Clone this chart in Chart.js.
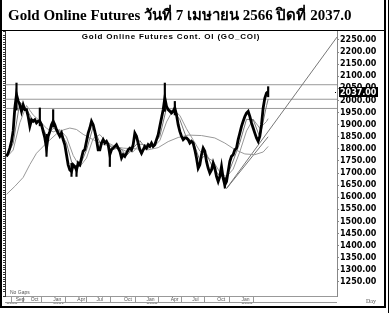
<!DOCTYPE html>
<html>
<head>
<meta charset="utf-8">
<script src="https://cdn.jsdelivr.net/npm/chart.js@4.4.1/dist/chart.umd.min.js"></script>
<style>
  html, body { margin: 0; padding: 0; background: #fff; }
  #wrap { position: relative; width: 390px; height: 313px; overflow: hidden; background: #fff; }
  #chart { position: absolute; left: 0; top: 0; }
  .title { position: absolute; left: 8px; top: 8px; font: bold 15px 'Liberation Serif', 'Times New Roman', serif; line-height: 15px; white-space: nowrap; color: #000; }
  .sub { position: absolute; left: 60px; top: 33px; width: 222px; text-align: center; font: bold 8px 'Liberation Sans', Arial, sans-serif; letter-spacing: 0.8px; line-height: 8px; white-space: nowrap; color: #000; }
  .ln { position: absolute; background: #000; }
</style>
</head>
<body>
<div id="wrap">
  <canvas id="chart" width="390" height="313"></canvas>
  <div class="title">Gold Online Futures วันที่ 7 เมษายน 2566 ปิดที่ 2037.0</div>
  <div class="sub">Gold Online Futures Cont. OI (GO_COI)</div>
  <div class="ln" style="left:0;top:0;width:2px;height:308px"></div>
  <div class="ln" style="left:384px;top:0;width:2px;height:308px"></div>
  <div class="ln" style="left:388px;top:0;width:1px;height:313px"></div>
  <div class="ln" style="left:0;top:30px;width:386px;height:1px"></div>
  <div class="ln" style="left:0;top:306px;width:386px;height:2px"></div>
</div>
<script>
// weekly closes, Jul 2020 -> 7 Apr 2023
const closeVals = [
  1769, 1782, 1803, 1831, 1874, 1969, 2024, 1998, 1982, 1955,
  1982, 1962, 1962, 1934, 1893, 1920, 1914, 1920, 1907, 1914,
  1914, 1900, 1872, 1845, 1803, 1852, 1872, 1900, 1914, 1900,
  1879, 1865, 1852, 1865, 1838, 1817, 1776, 1734, 1713, 1707,
  1734, 1727, 1713, 1741, 1734, 1762, 1790, 1797, 1831, 1865,
  1886, 1914, 1900, 1872, 1838, 1796, 1796, 1824, 1838, 1824,
  1831, 1817, 1776, 1796, 1803, 1810, 1817, 1803, 1790, 1762,
  1776, 1769, 1782, 1796, 1803, 1796, 1817, 1865, 1852, 1824,
  1796, 1782, 1796, 1810, 1803, 1817, 1810, 1824, 1810, 1817,
  1838, 1858, 1893, 1927, 1962, 2010, 1976, 1962, 1955, 1948,
  1955, 1969, 1941, 1900, 1872, 1852, 1838, 1845, 1845, 1838,
  1824, 1831, 1824, 1796, 1762, 1720, 1734, 1776, 1803, 1790,
  1748, 1720, 1700, 1713, 1741, 1720, 1686, 1665, 1686, 1727,
  1679, 1651, 1665, 1707, 1748, 1769, 1776, 1796, 1803, 1838,
  1865, 1893, 1914, 1934, 1948, 1955, 1934, 1907, 1886, 1865,
  1845, 1831, 1852, 1900, 1969, 2010, 2031, 2037
];

// intraweek extremes that stick out of the price band
const spikeAt = [6, 20, 24, 28, 39, 42, 62, 95, 101, 131, 157];
const spikeLo = [1960, 1895, 1769, 1890, 1686, 1686, 1727, 1955, 1940, 1638, 2015];
const spikeHi = [2072, 1969, 1860, 1962, 1740, 1730, 1800, 2072, 1996, 1680, 2057];

// short moving averages (read every 4 weeks)
const maAt = [0, 4, 8, 12, 16, 20, 24, 28, 32, 36, 40, 44, 48, 52, 56, 60, 64, 68, 72, 76,
  80, 84, 88, 92, 96, 100, 104, 108, 112, 116, 120, 124, 128, 132, 136, 140, 144, 148, 152, 156, 157];
const fastMa = [1769, 1822, 1993, 1965, 1915, 1914, 1855, 1885, 1874, 1824,
  1722, 1729, 1795, 1891, 1826, 1829, 1798, 1805, 1772, 1803,
  1834, 1798, 1815, 1852, 1969, 1955, 1921, 1845, 1829, 1753,
  1779, 1719, 1689, 1681, 1750, 1826, 1922, 1921, 1848, 1978, 2005];
const slowMa = [1765, 1795, 1908, 1979, 1940, 1915, 1885, 1870, 1880, 1849,
  1773, 1726, 1762, 1843, 1859, 1828, 1814, 1802, 1789, 1788,
  1819, 1816, 1807, 1834, 1911, 1962, 1938, 1883, 1837, 1791,
  1766, 1749, 1704, 1685, 1716, 1788, 1874, 1922, 1885, 1913, 1925];

// long moving average
const longMaAt = [0, 5, 10, 14, 18, 24, 30, 34, 38, 42, 46, 50, 54, 58, 64, 70, 78, 85, 91, 97,
  103, 109, 117, 125, 131, 137, 143, 149, 154, 157];
const longMa = [1612, 1645, 1682, 1735, 1782, 1824, 1862, 1878, 1886, 1880,
  1860, 1845, 1831, 1818, 1810, 1803, 1800, 1796, 1805, 1830,
  1847, 1857, 1855, 1845, 1824, 1797, 1779, 1776, 1787, 1810];

// horizontal levels and trend lines from the Oct 2022 low
const levels = [2065, 2005, 1967];
const trendAAt = [132, 198.3];
const trendA = [1636, 2262];
const trendBAt = [132, 157];
const trendB = [1636, 1850];

// axis
const xMin = -0.9, xMax = 198.3;
const yMin = 1192, yMax = 2287;
const yTicks = [1250, 1300, 1350, 1400, 1450, 1500, 1550, 1600, 1650, 1700, 1750,
  1800, 1850, 1900, 1950, 2000, 2050, 2100, 2150, 2200, 2250];
const monthAt = [0, 5.5, 14.5, 28, 42.5, 54, 70.5, 84, 98.5, 111.5, 126.5, 141];
const monthLbl = ['', 'Sep', 'Oct', 'Jan', 'Apr', 'Jul', 'Oct', 'Jan', 'Apr', 'Jul', 'Oct', 'Jan'];
const yearLbl = ['2020', '', '', '2021', '', '', '', '2022', '', '', '', '2023'];

const pts = (xs, ys) => xs.map((x, i) => ({ x: x, y: ys[i] }));

const extras = {
  id: 'extras',
  afterDraw(chart) {
    const { ctx, chartArea, scales } = chart;
    ctx.save();
    ctx.strokeStyle = '#999';
    ctx.lineWidth = 1;
    ctx.beginPath();
    ctx.moveTo(chartArea.left, 302.5);
    ctx.lineTo(chartArea.right, 302.5);
    ctx.stroke();

    ctx.fillStyle = '#555';
    ctx.textBaseline = 'alphabetic';
    ctx.font = '5px "Liberation Sans", Arial, sans-serif';
    ctx.fillText('No Gaps', 10, 294);
    ctx.font = '6px "Liberation Serif", serif';
    ctx.fillText('Day', 366, 303);

    // last price tag
    const last = closeVals[closeVals.length - 1];
    const y = Math.round(scales.y.getPixelForValue(last));
    ctx.fillStyle = '#000';
    ctx.fillRect(339, y - 5, 39, 10);
    ctx.fillRect(335, y, 1, 1);
    ctx.fillStyle = '#fff';
    ctx.font = 'bold 8px "DejaVu Sans", sans-serif';
    ctx.textBaseline = 'middle';
    ctx.fillText(last.toFixed(2), 340, y + 0.5);
    ctx.restore();
  }
};

const thin = (data, color) => ({
  type: 'line', data: data, borderColor: color, borderWidth: 1, pointRadius: 0, tension: 0
});

new Chart(document.getElementById('chart'), {
  type: 'line',
  data: {
    datasets: [
      { type: 'line', label: 'Close', data: pts(closeVals.map((v, i) => i), closeVals),
        borderColor: '#000', borderWidth: 2.8, pointRadius: 0, tension: 0 },
      { type: 'bar', label: 'Range', data: spikeAt.map((x, k) => ({ x: x, y: [spikeLo[k], spikeHi[k]] })),
        backgroundColor: '#000', barThickness: 1.5 },
      thin(pts(maAt, fastMa), '#777'),
      thin(pts(maAt, slowMa), '#999'),
      thin(pts(longMaAt, longMa), '#999'),
      thin(pts(trendAAt, trendA), '#777'),
      thin(pts(trendBAt, trendB), '#777'),
      ...levels.map(v => thin([{ x: xMin, y: v }, { x: xMax, y: v }], '#999'))
    ]
  },
  options: {
    responsive: false,
    animation: false,
    devicePixelRatio: 1,
    layout: { padding: { top: 31, left: 0, right: 0, bottom: 9 } },
    plugins: { legend: { display: false }, tooltip: { enabled: false } },
    scales: {
      x: {
        type: 'linear', min: xMin, max: xMax, offset: false,
        afterFit(s) { s.height = 8; },
        afterBuildTicks(s) { s.ticks = monthAt.map(v => ({ value: v })); },
        ticks: {
          autoSkip: false, maxRotation: 0, align: 'start', padding: -5,
          font: { size: 5, family: 'Liberation Sans' }, color: '#555',
          callback(v, i) { return [monthLbl[i], yearLbl[i]]; }
        },
        grid: { drawOnChartArea: false, tickLength: 6, color: '#999' },
        border: { color: '#999' }
      },
      y: {
        position: 'right', min: yMin, max: yMax,
        afterFit(s) { s.width = 53; },
        afterBuildTicks(s) { s.ticks = yTicks.map(v => ({ value: v })); },
        ticks: {
          padding: 1, color: '#000',
          font: { family: 'DejaVu Sans', size: 8, weight: 'bold' },
          callback(v) { return Number(v).toFixed(2); }
        },
        grid: { drawOnChartArea: false, tickLength: 2, color: '#888' },
        border: { color: '#888', dash: [1, 1] }
      },
      yl: {
        position: 'left', min: yMin, max: yMax,
        afterFit(s) { s.width = 5; },
        ticks: { display: false, stepSize: 10 },
        grid: { drawOnChartArea: false, tickLength: 2, color: '#333' },
        border: { color: '#333' }
      }
    }
  },
  plugins: [extras]
});
</script>
</body>
</html>
